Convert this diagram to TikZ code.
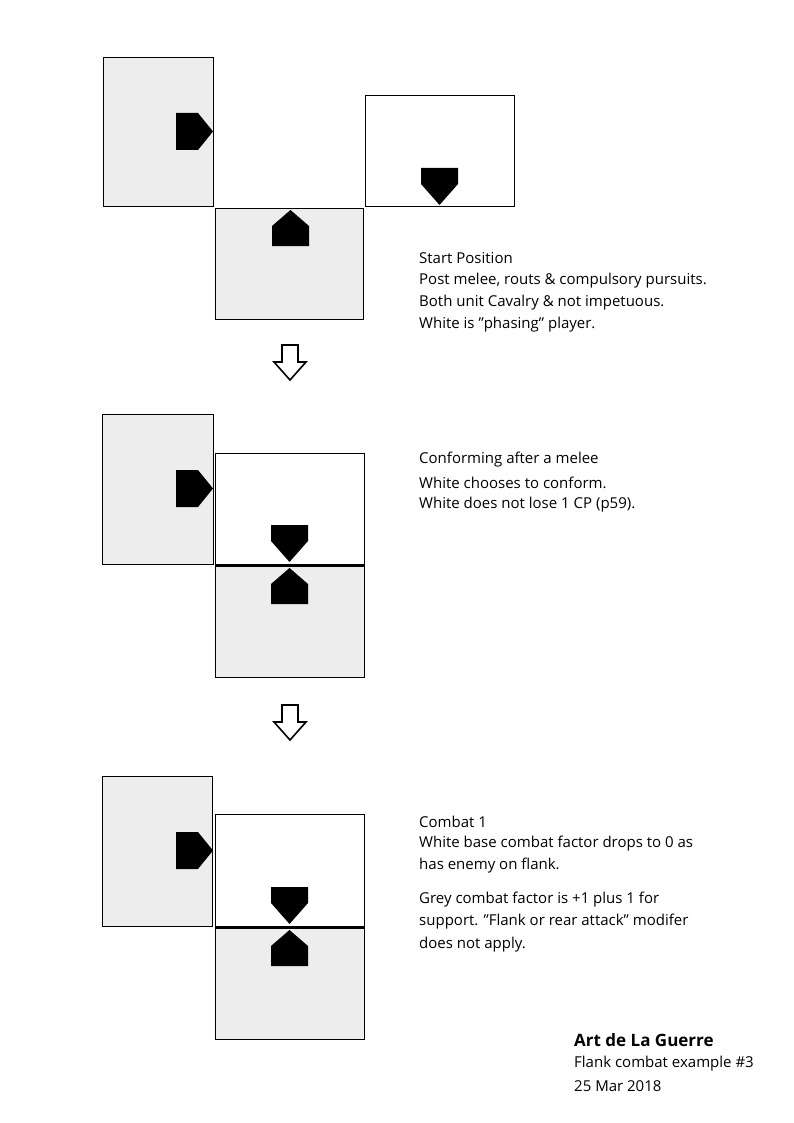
\documentclass[tikz,border=0pt]{standalone}
\usepackage{fontspec}
\setmainfont{Open Sans}
\begin{document}
\begin{tikzpicture}[x=1pt,y=-1pt,
 grey/.style={draw=black,fill=black!7,line width=1pt},
 white/.style={draw=black,fill=white,line width=1pt},
 txt/.style={anchor=west,inner sep=0pt,font=\fontsize{15}{18}\selectfont},
 mk/.style={fill=black}]
\useasboundingbox (0,0) rectangle (794,1123);
\newcommand{\mkright}[2]{\fill (#1,#2) -- ++(22,0) -- ++(15,18.5) -- ++(-15,18.5) -- ++(-22,0) -- cycle;}
\newcommand{\mkdown}[2]{\fill (#1,#2) -- ++(37,0) -- ++(0,16) -- ++(-18.5,21) -- ++(-18.5,-21) -- cycle;}
\newcommand{\mkup}[2]{\fill (#1,#2) -- ++(37,0) -- ++(0,-20) -- ++(-18.5,-16) -- ++(-18.5,16) -- cycle;}
\newcommand{\harrow}[2]{\draw[line width=1.6pt,fill=white] (#1-8,#2) -- (#1+8,#2) -- (#1+8,#2+17) -- (#1+16,#2+17) -- (#1,#2+35) -- (#1-16,#2+17) -- (#1-8,#2+17) -- cycle;}
\newcommand{\dq}{\symbol{34}}
% diagram 1
\node[grey,minimum width=110,minimum height=149,anchor=north west,inner sep=0] (g1) at (103,57) {};
\node[white,minimum width=149,minimum height=111,anchor=north west,inner sep=0] (w1) at (365,95) {};
\node[grey,minimum width=148,minimum height=111,anchor=north west,inner sep=0] (h1) at (215,208) {};
\mkright{176}{113}
\mkdown{421}{168}
\mkup{272}{246}
\node[txt] (t1) at (419,258) {Start Position};
\node[txt] (t2) at (419,281) {Post melee, routs \& compulsory pursuits.};
\node[txt] (t3) at (419,303) {Both unit Cavalry \& not impetuous.};
\node[txt] (t4) at (419,325) {White is \dq phasing\dq{} player.};
\harrow{290}{345}
% diagram 2
\node[grey,minimum width=111,minimum height=150,anchor=north west,inner sep=0] (g2) at (102,414) {};
\node[white,minimum width=149,minimum height=112,anchor=north west,inner sep=0] (w2) at (215,453) {};
\node[grey,minimum width=149,minimum height=111,anchor=north west,inner sep=0] (h2) at (215,566) {};
\draw[line width=2.5pt] (215,565.5) -- (364,565.5);
\mkright{176}{470}
\mkdown{271}{525}
\mkup{271}{604}
\node[txt] (u1) at (419,460) {Conforming after a melee};
\node[txt] (u2) at (419,483) {White chooses to conform.};
\node[txt] (u3) at (419,505) {White does not lose 1 CP (p59).};
\harrow{290}{705}
% diagram 3
\node[grey,minimum width=110,minimum height=150,anchor=north west,inner sep=0] (g3) at (102,776) {};
\node[white,minimum width=149,minimum height=113,anchor=north west,inner sep=0] (w3) at (215,814) {};
\node[grey,minimum width=149,minimum height=111,anchor=north west,inner sep=0] (h3) at (215,928) {};
\draw[line width=2.5pt] (215,927.5) -- (364,927.5);
\mkright{176}{832}
\mkdown{271}{887}
\mkup{271}{966}
\node[txt] (v1) at (419,822) {Combat 1};
\node[txt] (v2) at (419,844) {White base combat factor drops to 0 as};
\node[txt] (v3) at (419,866) {has enemy on flank.};
\node[txt] (v4) at (419,900) {Grey combat factor is +1 plus 1 for};
\node[txt] (v5) at (419,922) {support. \dq Flank or rear attack\dq{} modifer};
\node[txt] (v6) at (419,945) {does not apply.};
% signature
\node[txt,font=\fontsize{17}{20}\selectfont\bfseries] (s1) at (574,1040) {Art de La Guerre};
\node[txt] (s2) at (574,1064) {Flank combat example \#3};
\node[txt] (s3) at (574,1086) {25 Mar 2018};
\end{tikzpicture}
\end{document}
